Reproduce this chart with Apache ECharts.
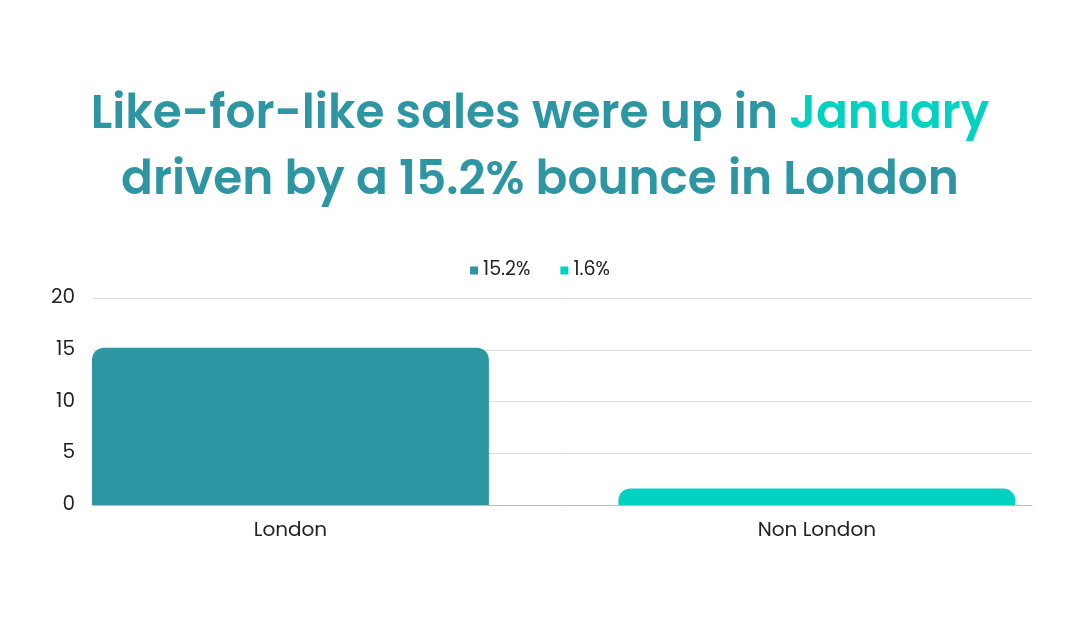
<!DOCTYPE html>
<html><head><meta charset="utf-8">
<script src="https://cdn.jsdelivr.net/npm/echarts@6/dist/echarts.min.js"></script>
<style>html,body{margin:0;background:#fff}#c{width:1080px;height:627px}</style>
</head><body><div id="c"></div>
<script>
const categories = ['London', 'Non London'];
const seriesNames = ['15.2%', '1.6%'];
const londonValues = [15.2, null];
const nonLondonValues = [null, 1.6];
const yTicks = [0, 5, 10, 15, 20];
const colors = ['#2E96A3', '#00D1C1'];
const chart = echarts.init(document.getElementById('c'));
const font = 'Poppins, Inter, "Noto Sans", sans-serif';
const yMin = yTicks[0], yMax = yTicks[yTicks.length - 1];
chart.setOption({
  animation: false,
  title: {
    left: 'center', top: 78,
    text: '{a|Like-for-like sales were up in }{b|January}\n{a|driven by a 15.2% bounce in London}',
    textStyle: { rich: {
      a: { fontSize: 47, fontWeight: 600, color: '#2E96A3', fontFamily: font, lineHeight: 66 },
      b: { fontSize: 47, fontWeight: 600, color: '#00D1C1', fontFamily: font, lineHeight: 66 }
    } }
  },
  legend: {
    top: 256, left: 'center', itemWidth: 8, itemHeight: 8, icon: 'rect', itemGap: 30,
    textStyle: { fontSize: 19, color: '#222', fontFamily: font }
  },
  grid: [
    { left: 93, right: 48, top: 298, bottom: 122 },
    { left: 27.25, right: -18.25, top: 298, bottom: 122 }
  ],
  xAxis: [
    { type: 'category', gridIndex: 0, data: [''], axisTick: { show: false },
      axisLabel: { show: false }, axisLine: { lineStyle: { color: '#bbb' } } },
    { type: 'category', gridIndex: 1, data: categories, axisTick: { show: false },
      axisLine: { show: false },
      axisLabel: { fontSize: 20, color: '#222', fontFamily: font, margin: 16 } }
  ],
  yAxis: [
    { type: 'value', gridIndex: 0, min: yMin, max: yMax, interval: 5,
      splitLine: { lineStyle: { color: '#ddd' } },
      axisLabel: { fontSize: 20, color: '#222', fontFamily: font, margin: 18 } },
    { type: 'value', gridIndex: 1, min: yMin, max: yMax, interval: 5, show: false,
      splitLine: { show: false } }
  ],
  series: [
    { name: seriesNames[0], type: 'bar', xAxisIndex: 1, yAxisIndex: 1, data: londonValues,
      barWidth: '75.4%', barGap: '-100%',
      itemStyle: { color: colors[0], borderRadius: [12, 12, 0, 0] } },
    { name: seriesNames[1], type: 'bar', xAxisIndex: 1, yAxisIndex: 1, data: nonLondonValues,
      barWidth: '75.4%',
      itemStyle: { color: colors[1], borderRadius: [12, 12, 0, 0] } }
  ]
});
</script></body></html>
